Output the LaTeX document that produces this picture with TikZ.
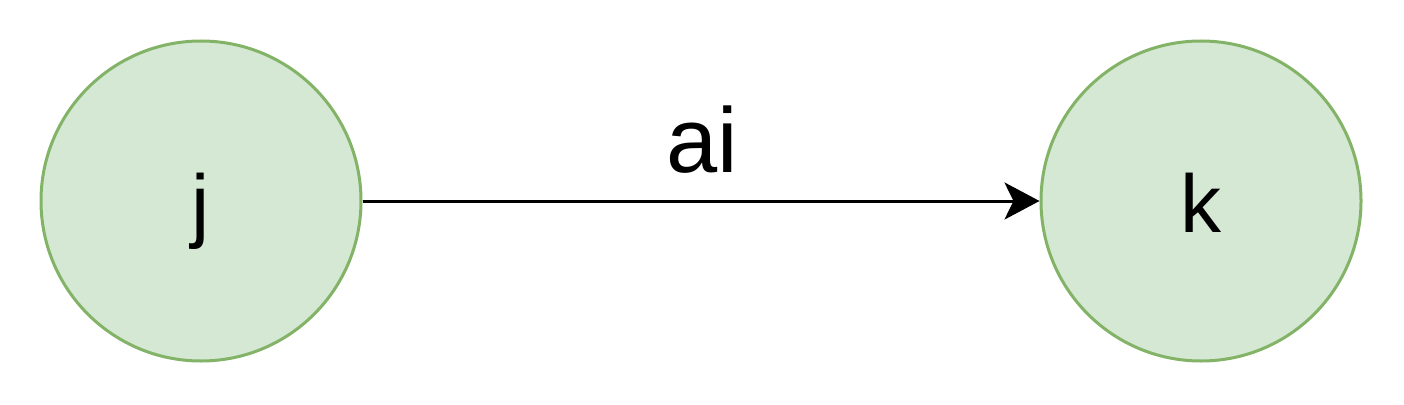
\documentclass[tikz,border=0pt]{standalone}
\usepackage{fontspec}
\setmainfont{Liberation Sans}
\usetikzlibrary{arrows.meta}
\definecolor{nodefill}{HTML}{D5E8D4}
\definecolor{nodedraw}{HTML}{82B366}
\begin{document}
\begin{tikzpicture}[x=1pt,y=-1pt,
  vertex/.style={circle, minimum size=320pt, inner sep=0pt, fill=nodefill, draw=nodedraw, line width=3pt},
  vlabel/.style={anchor=base, inner sep=0pt, font=\fontsize{82}{90}\selectfont},
  elabel/.style={anchor=base, inner sep=0pt, font=\fontsize{92}{100}\selectfont},
  conn/.style={line width=3pt, -{Stealth[length=35pt, width=37pt, inset=9pt]}}]
\useasboundingbox (0,0) rectangle (1404,404);
\node[vertex] (j) at (201,201) {};
\node[vertex] (k) at (1201,201) {};
\node[vlabel] (jl) at (201,232) {j};
\node[vlabel] (kl) at (1201,232) {k};
\draw[conn] (j) -- (k);
\node[elabel] (ai) at (702,172) {ai};
\end{tikzpicture}
\end{document}
